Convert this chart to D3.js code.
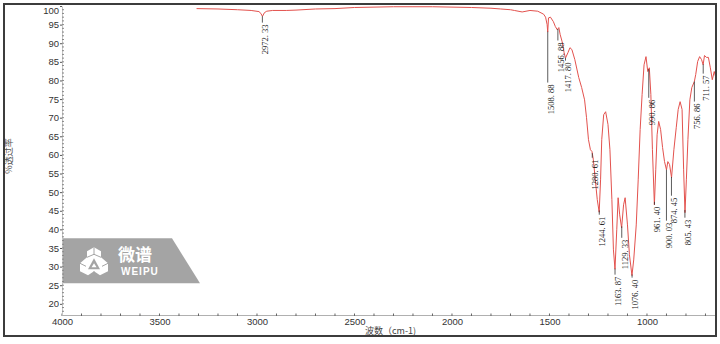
<!DOCTYPE html>
<html>
<head>
<meta charset="utf-8">
<script src="https://cdn.jsdelivr.net/npm/d3@7"></script>
<style>
    body { margin: 0; background: #fff; }
    svg { display: block; }
    text { font-family: "Liberation Sans", Arial, sans-serif; }
</style>
</head>
<body>
<div id="graph-container"></div>
<script>
// spectrum (cm-1, %T)
const wavenumber = [
    3310, 3200, 3100, 3030, 2990, 2980, 2972, 2962, 2950, 2920, 2850, 2800, 2700, 2600,
    2500, 2400, 2300, 2200, 2100, 2000, 1900, 1800, 1750, 1700, 1680, 1640, 1600, 1560,
    1530, 1520, 1512, 1509, 1505, 1495, 1480, 1470, 1460, 1452, 1445, 1435, 1425, 1418,
    1405, 1395, 1385, 1370, 1350, 1335, 1320, 1310, 1300, 1290, 1282, 1275, 1265, 1255,
    1245, 1238, 1232, 1222, 1212, 1200, 1190, 1180, 1172, 1164, 1155, 1148, 1140, 1130,
    1120, 1112, 1100, 1090, 1077, 1068, 1055, 1045, 1035, 1025, 1015, 1005, 996, 988,
    980, 972, 962, 955, 948, 940, 930, 920, 910, 900, 893, 884, 874, 862, 850, 840, 830,
    820, 812, 805, 798, 790, 780, 770, 757, 750, 740, 730, 720, 712, 705, 695, 685, 675,
    665, 655, 648
];
const transmittance = [
    99.3, 99.2, 99.0, 98.8, 98.5, 98.0, 97.2, 98.2, 98.6, 98.8, 98.8, 98.9, 99.2, 99.3,
    99.6, 99.7, 99.8, 99.8, 99.8, 99.7, 99.6, 99.4, 99.2, 99.0, 98.8, 98.4, 98.8, 98.6,
    97.8, 97.0, 95.0, 93.0, 96.8, 97.0, 95.8, 94.5, 93.6, 94.2, 92.3, 90.4, 87.5, 86.0,
    87.5, 88.8, 88.3, 85.6, 80.8, 78.1, 74.8, 70.0, 64.1, 61.4, 60.9, 58.7, 53.3, 48.0,
    44.6, 53.3, 64.1, 70.8, 71.6, 68.2, 61.4, 48.0, 34.5, 29.3, 39.9, 48.5, 43.9, 40.4,
    46.6, 48.5, 41.2, 33.2, 27.6, 31.8, 41.2, 53.3, 66.8, 76.2, 84.2, 86.4, 82.4, 83.4,
    76.2, 61.4, 46.6, 56.0, 65.4, 69.0, 66.8, 62.0, 58.2, 56.0, 58.2, 57.4, 53.9, 61.4,
    67.3, 72.2, 74.3, 72.2, 56.0, 44.5, 53.3, 64.1, 74.8, 78.1, 79.7, 81.6, 85.1, 86.4,
    85.6, 84.2, 86.7, 86.2, 86.2, 83.4, 80.2, 82.4, 81.0
];

// peak annotations
const peakWavenumbers = [2972.33, 1508.88, 1456.88, 1417.80, 1280.61, 1244.61, 1163.87,
    1129.33, 1076.40, 990.86, 961.40, 900.03, 874.45, 805.43, 756.86, 711.57];
const peakLabels = ['2972. 33', '1508. 88', '1456. 88', '1417. 80', '1280. 61', '1244. 61',
    '1163. 87', '1129. 33', '1076. 40', '990. 86', '961. 40', '900. 03', '874. 45',
    '805. 43', '756. 86', '711. 57'];
// %T level where each label starts
const labelLevels = [95.0, 78.9, 90.2, 84.8, 58.7, 43.4, 27.3, 37.2, 26.5, 74.8, 46.1,
    41.8, 48.5, 42.6, 73.8, 81.3];

const xTicks = [4000, 3500, 3000, 2500, 2000, 1500, 1000];
const yTicks = [20, 25, 30, 35, 40, 45, 50, 55, 60, 65, 70, 75, 80, 85, 90, 95, 100];

const margin = {
    top: 6,
    bottom: 29,
    left: 62,
    right: 4,
};

const
    WIDTH = 720,
    HEIGHT = 344;

const width = WIDTH - margin.left - margin.right,
    height = HEIGHT - margin.top - margin.bottom;

const svg = d3.select('#graph-container').append('svg')
    .attr('width', WIDTH)
    .attr('height', HEIGHT);

const container = svg.append('g')
    .attr('transform', `translate(${margin.left} ${margin.top})`);

const xScale = d3.scaleLinear().domain([4000, 646]).range([0, width]);
const yScale = d3.scaleLinear().domain([17, 100]).range([height, 0]);

// watermark
const wm = container.append('g').attr('transform', `translate(0 ${yScale(37.6)})`);
wm.append('polygon')
    .attr('points', '0,0 110,0 138,45 0,45')
    .attr('fill', '#a4a4a4');
const logo = wm.append('g').attr('transform', 'translate(32 24)');
logo.append('polygon')
    .attr('points', '0,-15 7,-11 7,-5 14,1 14,9 6,13 0,9 -6,13 -14,9 -14,1 -7,-5 -7,-11')
    .attr('fill', '#fff');
logo.append('polygon')
    .attr('points', '0,-4 6,7 -6,7')
    .attr('fill', '#a4a4a4');
logo.append('polygon')
    .attr('points', '0,1 2.5,5 -2.5,5')
    .attr('fill', '#fff');
logo.append('path')
    .attr('d', 'M0,-15 L0,-8 M-7,-5 L0,-8 L7,-5 M-14,1 L-8,4 M14,1 L8,4 M0,9 L0,13')
    .attr('stroke', '#a4a4a4')
    .attr('stroke-width', 1)
    .attr('fill', 'none');
wm.append('text')
    .attr('x', 56)
    .attr('y', 23)
    .attr('fill', '#fff')
    .style('font-family', '"Noto Sans CJK SC", sans-serif')
    .style('font-size', '17px')
    .style('font-weight', 'bold')
    .text('微谱');
wm.append('text')
    .attr('x', 59)
    .attr('y', 37)
    .attr('fill', '#fff')
    .style('font-size', '10px')
    .style('font-weight', 'bold')
    .style('letter-spacing', '1px')
    .text('WEIPU');

// axes
const xAxis = d3.axisBottom(xScale)
    .tickValues(xTicks)
    .tickSize(0)
    .tickSizeOuter(0)
    .tickPadding(3)
    .tickFormat(d3.format('d'));

const yAxis = d3.axisLeft(yScale)
    .tickValues(yTicks)
    .tickSize(2)
    .tickSizeOuter(0)
    .tickPadding(1);

const gx = container.append('g')
    .attr('transform', `translate(0 ${height})`)
    .call(xAxis);
gx.select('.domain').attr('stroke', '#b0b0b0');
gx.selectAll('text').attr('fill', '#333').style('font-size', '9.5px');

gx.selectAll('.minor')
    .data(d3.range(4000, 646, -100))
    .join('line')
    .attr('class', 'minor')
    .attr('x1', (d) => xScale(d))
    .attr('x2', (d) => xScale(d))
    .attr('y1', -1.5)
    .attr('y2', 1)
    .attr('stroke', '#666');

const gy = container.append('g').call(yAxis);
gy.select('.domain').attr('stroke', '#c4c4c4');
gy.selectAll('.tick line').attr('stroke', '#555');
gy.selectAll('text').attr('fill', '#333').style('font-size', '9.5px');
gy.selectAll('.tick text').filter((d) => d === 100).attr('dy', '0.75em');

gy.selectAll('.minor')
    .data(d3.range(18, 100, 1))
    .join('line')
    .attr('class', 'minor')
    .attr('x1', 0)
    .attr('x2', 2)
    .attr('y1', (d) => yScale(d))
    .attr('y2', (d) => yScale(d))
    .attr('stroke', '#888');

// axis titles
svg.append('text')
    .attr('transform', 'translate(12 156) rotate(-90)')
    .style('text-anchor', 'middle')
    .style('font-family', '"Noto Sans CJK SC", sans-serif')
    .style('font-size', '9px')
    .attr('fill', '#555')
    .text('%透过率');

svg.append('text')
    .attr('x', 365)
    .attr('y', 334)
    .style('font-family', '"Noto Sans CJK SC", sans-serif')
    .style('font-size', '9px')
    .attr('fill', '#444')
    .text('波数（cm-1)');

// spectrum
const spectrum = d3.zip(wavenumber, transmittance);

const line = d3.line()
    .x((d) => xScale(d[0]))
    .y((d) => yScale(d[1]));

container.append('path')
    .datum(spectrum)
    .attr('d', line)
    .attr('fill', 'none')
    .attr('stroke', '#e3524e')
    .attr('stroke-width', 1)
    .attr('stroke-linejoin', 'round');

// value of the spectrum at a wavenumber
const valueAt = (w) => {
    for (let i = 0; i < wavenumber.length - 1; i++) {
        if (wavenumber[i] >= w && w >= wavenumber[i + 1]) {
            const t = (wavenumber[i] - w) / (wavenumber[i] - wavenumber[i + 1]);
            return transmittance[i] + t * (transmittance[i + 1] - transmittance[i]);
        }
    }
    return transmittance[transmittance.length - 1];
};

const peaks = peakWavenumbers.map((w, i) => ({
    w: w,
    label: peakLabels[i],
    level: labelLevels[i],
    value: valueAt(w),
}));

container.selectAll('.peak-line')
    .data(peaks)
    .join('line')
    .attr('class', 'peak-line')
    .attr('x1', (d) => xScale(d.w))
    .attr('x2', (d) => xScale(d.w))
    .attr('y1', (d) => yScale(d.value))
    .attr('y2', (d) => yScale(d.level) - 2)
    .attr('stroke', '#333')
    .attr('stroke-width', 0.8);

container.selectAll('.peak-label')
    .data(peaks)
    .join('text')
    .attr('class', 'peak-label')
    .attr('transform', (d) => `translate(${xScale(d.w) + 3} ${yScale(d.level)}) rotate(-90)`)
    .attr('dy', '0.35em')
    .style('text-anchor', 'end')
    .style('font-family', '"Liberation Serif", serif')
    .style('font-size', '8.5px')
    .attr('fill', '#222')
    .text((d) => d.label);

// outer frame
svg.append('rect')
    .attr('x', 4)
    .attr('y', 4)
    .attr('width', 712)
    .attr('height', 332)
    .attr('fill', 'none')
    .attr('stroke', '#3c3c3c')
    .attr('stroke-width', 2);
</script>
</body>
</html>
